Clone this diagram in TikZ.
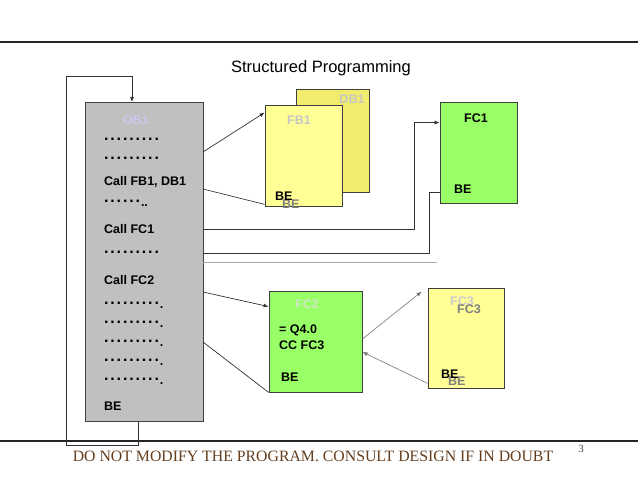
\documentclass[tikz,border=0pt]{standalone}
\usepackage{fontspec}
\setmainfont{Liberation Sans}
\newfontfamily\footfont{Liberation Serif}
\usetikzlibrary{arrows.meta}

\definecolor{obgray}{RGB}{192,192,192}
\definecolor{dbyellow}{RGB}{242,236,110}
\definecolor{fbyellow}{RGB}{255,255,150}
\definecolor{fcgreen}{RGB}{153,255,102}
\definecolor{footbrown}{RGB}{100,62,30}

\newcommand{\dd}{\makebox[6.3pt]{\raisebox{4pt}{\fontsize{16}{16}\selectfont .}}}

\begin{document}
\begin{tikzpicture}[x=1pt,y=-1pt,
  blk/.style={draw=black!75,line width=0.8pt,inner sep=0pt},
  txt/.style={anchor=base west,inner sep=0pt,font=\fontsize{12.5}{15}\selectfont\bfseries},
  lbl/.style={anchor=base,inner sep=0pt,font=\fontsize{12.5}{15}\selectfont\bfseries},
  link/.style={draw=black!80,line width=0.7pt},
  glink/.style={draw=black!55,line width=0.6pt},
  tip/.style={-{Latex[length=5pt,width=4pt]}}]
\fill[white] (0,0) rectangle (638,478);
\useasboundingbox (0,0) rectangle (638,478);

% page rules
\draw[line width=2.2pt,black!85] (0,42) -- (638,42);
\draw[line width=2pt,black!85] (0,441) -- (638,441);

\node[anchor=base,inner sep=0pt,font=\fontsize{16.5}{20}\selectfont] (title) at (321,73) {Structured Programming};

% blocks
\node[blk,fill=obgray,minimum width=118pt,minimum height=319pt] (ob1) at (144,261.5) {};
\node[blk,fill=dbyellow,minimum width=73pt,minimum height=103pt] (db1) at (332.5,140.5) {};
\node[blk,fill=fbyellow,minimum width=77pt,minimum height=101pt] (fb1) at (303.5,155.5) {};
\node[blk,fill=fcgreen,minimum width=77pt,minimum height=101pt] (fc1) at (478.5,152.5) {};
\node[blk,fill=fcgreen,minimum width=93pt,minimum height=101pt] (fc2) at (315.5,341.5) {};
\node[blk,fill=fbyellow,minimum width=76pt,minimum height=100pt] (fc3) at (466,338) {};

% OB1 text
\node[lbl,text={rgb,255:red,200;green,200;blue,240}] (ob1t) at (136,124.5) {OB1};
\node[txt] (ob1d1) at (103,144.4) {\dd\dd\dd\dd\dd\dd\dd\dd\dd};
\node[txt] (ob1d2) at (103,163.4) {\dd\dd\dd\dd\dd\dd\dd\dd\dd};
\node[txt] (ob1c1) at (104,185.5) {Call FB1, DB1};
\node[txt] (ob1d3) at (103,206.5) {\dd\dd\dd\dd\dd\dd..};
\node[txt] (ob1c2) at (104,233.5) {Call FC1};
\node[txt] (ob1d4) at (103,257.4) {\dd\dd\dd\dd\dd\dd\dd\dd\dd};
\node[txt] (ob1c3) at (104,284.5) {Call FC2};
\node[txt] (ob1d5) at (103,308.4) {\dd\dd\dd\dd\dd\dd\dd\dd\dd.};
\node[txt] (ob1d6) at (103,327.4) {\dd\dd\dd\dd\dd\dd\dd\dd\dd.};
\node[txt] (ob1d7) at (103,346.4) {\dd\dd\dd\dd\dd\dd\dd\dd\dd.};
\node[txt] (ob1d8) at (103,365.4) {\dd\dd\dd\dd\dd\dd\dd\dd\dd.};
\node[txt] (ob1d9) at (103,384.4) {\dd\dd\dd\dd\dd\dd\dd\dd\dd.};
\node[txt] (ob1be) at (104,410.5) {BE};

% FB1 / DB1 text
\node[lbl,text=black!22] (db1t) at (352,103.5) {DB1};
\node[lbl,text=black!22] (fb1t) at (299,124.5) {FB1};
\node[txt,text=black!50] (fb1be2) at (282,208.5) {BE};
\node[txt] (fb1be) at (275,200.5) {BE};

% FC1 text
\node[lbl] (fc1t) at (476,122.5) {FC1};
\node[txt] (fc1be) at (454,193.5) {BE};

% FC2 text
\node[lbl,text={rgb,255:red,205;green,230;blue,195}] (fc2t) at (307,308.5) {FC2};
\node[txt] (fc2a) at (279,333.5) {= Q4.0};
\node[txt] (fc2b) at (279,349.5) {CC FC3};
\node[txt] (fc2be) at (281,381.5) {BE};

% FC3 text
\node[lbl,text=black!20] (fc3t2) at (462,305.5) {FC3};
\node[lbl,text=black!50] (fc3t) at (469,313.5) {FC3};
\node[txt,text=black!50] (fc3be2) at (448,385.5) {BE};
\node[txt] (fc3be) at (441,378.5) {BE};

% connection points on OB1
\coordinate (callfb) at (203,152);
\coordinate (retfb) at (203,189);
\coordinate (callfc1) at (203,229);
\coordinate (retfc1) at (203,253);
\coordinate (callfc2) at (203,292);
\coordinate (retfc2) at (203,342);
\coordinate (loopout) at (138,421);
\coordinate (loopin) at (132,102);

% connectors
\draw[link,tip] (loopout) -- ++(0,24) -| (66,76) -| (loopin);
\draw[link,tip] (callfb) -- ([yshift=-8pt]fb1.north west);
\draw[link] (retfb) -- ([yshift=2pt]fb1.south west);
\draw[link,tip] (callfc1) -- ++(211,0) |- ([yshift=-21pt]fc1.north west);
\draw[link] ([yshift=11pt]fc1.south west) -- ++(-10,0) |- (retfc1);
\draw[black!35,line width=0.8pt] (203,262) -- (437,262);
\draw[link,tip] (callfc2) -- ([yshift=-16pt]fc2.north west);
\draw[link] (retfc2) -- (fc2.south west);
\draw[glink,tip] ([yshift=2.5pt]fc2.east) -- ([xshift=-6pt,yshift=-4pt]fc3.north west);
\draw[glink,tip] ([yshift=5pt]fc3.south west) -- ([yshift=-10.5pt]fc2.east);

% footer
\node[anchor=base,inner sep=0pt,text=footbrown,font=\footfont\fontsize{15.8}{18}\selectfont] (foot) at (313,462) {DO NOT MODIFY THE PROGRAM. CONSULT DESIGN IF IN DOUBT};
\node[anchor=base,inner sep=0pt,text=black!70,font=\footfont\fontsize{11}{13}\selectfont] (pageno) at (581,452.5) {3};
\end{tikzpicture}
\end{document}
